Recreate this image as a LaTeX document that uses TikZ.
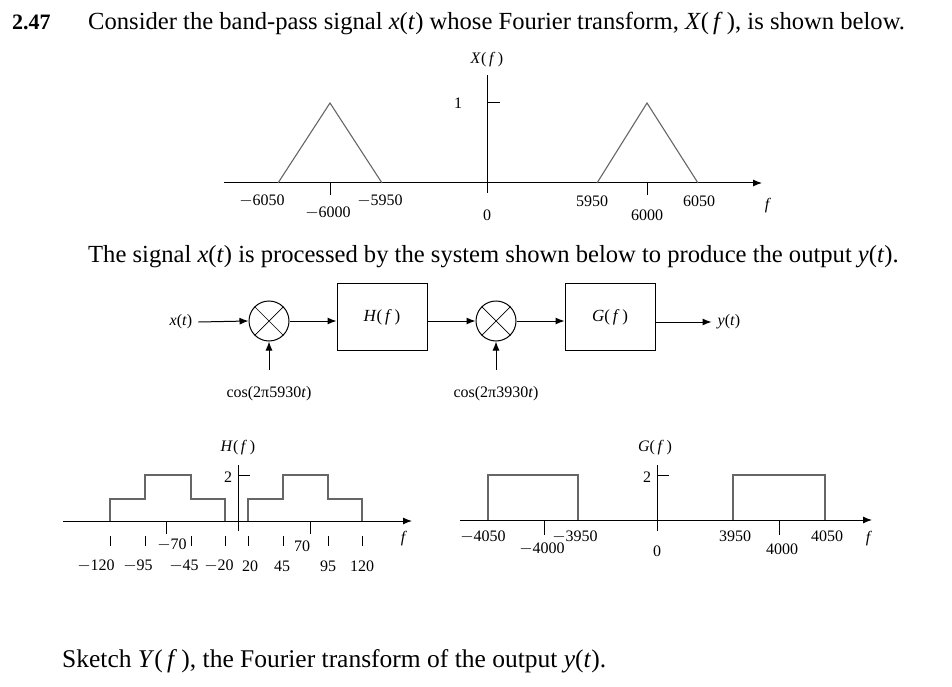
\documentclass[tikz,border=0pt]{standalone}
\usepackage{fontspec}
\setmainfont{Liberation Serif}
\usetikzlibrary{arrows.meta}
\newcommand{\vi}[1]{\textit{#1}}
\begin{document}
\begin{tikzpicture}[x=1pt,y=-1pt,
  ax/.style={line width=1pt,-{Latex[length=9pt,width=7pt]}},
  axn/.style={line width=1pt},
  curve/.style={line width=1.1pt,draw=black!60},
  lbl/.style={font=\fontsize{16}{16}\selectfont,inner sep=0pt},
  body/.style={font=\fontsize{24.6}{26}\selectfont,inner sep=0pt,anchor=base west},
  blk/.style={draw,line width=1pt,minimum width=90pt,minimum height=67pt,font=\fontsize{17}{17}\selectfont},
  mix/.style={draw,circle,line width=1pt,minimum size=40pt,inner sep=0pt},
  sig/.style={line width=1pt,-{Latex[length=9pt,width=7pt]}}]
\useasboundingbox (0,0) rectangle (952,687);
% text
\node[body,font=\fontsize{22}{22}\selectfont\bfseries] (num) at (12,30) {2.47};
\node[body] (t1) at (88,30) {Consider the band-pass signal \vi{x}(\vi{t}) whose Fourier transform, \vi{X}(\,\vi{f}\,), is shown below.};
\node[body] (t2) at (88,262) {The signal \vi{x}(\vi{t}) is processed by the system shown below to produce the output \vi{y}(\vi{t}).};
\node[body,font=\fontsize{25.5}{26}\selectfont] (t3) at (62,667) {Sketch \vi{Y}(\,\vi{f}\,), the Fourier transform of the output \vi{y}(\vi{t}).};
% X(f)
\draw[ax] (224,183) -- (762,183);
\draw[axn] (487,75) -- (487,193);
\draw[axn] (487,103) -- (500,103);
\node[lbl] (one) at (458,103) {1};
\node[lbl] (xl) at (487,60) {\vi{X}(\,\vi{f}\,)};
\draw[curve] (278,183) -- (330,103) -- (382,183);
\draw[curve] (597,183) -- (647,103) -- (698,183);
\draw[axn] (330,183) -- (330,195);
\draw[axn] (647,183) -- (647,195);
\node[lbl] at (262,201) {$-$6050};
\node[lbl] at (328,213) {$-$6000};
\node[lbl] at (380,201) {$-$5950};
\node[lbl] at (487,215) {0};
\node[lbl] at (592,201) {5950};
\node[lbl] at (647,215) {6000};
\node[lbl] at (699,201) {6050};
\node[lbl] at (768,206) {\vi{f}};
% block diagram
\node[lbl] (xin) at (181,322) {\vi{x}(\vi{t})};
\node[mix] (m1) at (269,321) {};
\draw[line width=0.7pt] (m1.north west) -- (m1.south east) (m1.north east) -- (m1.south west);
\node[blk] (H) at (382,317) {\vi{H}(\,\vi{f}\,)};
\node[mix] (m2) at (496,321) {};
\draw[line width=0.7pt] (m2.north west) -- (m2.south east) (m2.north east) -- (m2.south west);
\node[blk] (G) at (610,317) {\vi{G}(\,\vi{f}\,)};
\node[lbl] (yout) at (729,322) {\vi{y}(\vi{t})};
\coordinate (c1) at (269,370);
\coordinate (c2) at (496,370);
\node[lbl] (cos1) at (269,394) {cos(2π5930\vi{t})};
\node[lbl] (cos2) at (496,394) {cos(2π3930\vi{t})};
\draw[sig] (xin.east) ++(6,0) -- (m1.west);
\draw[sig] (m1.east) -- (H.west |- m1.east);
\draw[sig] (H.east |- m2.west) -- (m2.west);
\draw[sig] (m2.east) -- (G.west |- m2.east);
\draw[sig] (G.east |- yout.west) -- ([xshift=-6pt]yout.west);
\draw[sig] (c1) -- (m1.south);
\draw[sig] (c2) -- (m2.south);
% H(f)
\draw[ax] (63,521) -- (412,521);
\draw[axn] (238,465) -- (238,531);
\draw[axn] (238,475) -- (250,475);
\node[lbl] at (228,477) {2};
\node[lbl] at (238,448) {\vi{H}(\,\vi{f}\,)};
\draw[curve] (110,521) |- (145,499) |- (191,475) |- (225,499) -- (225,521);
\draw[curve] (248,521) |- (283,499) |- (328,475) |- (362,499) -- (362,521);
\foreach \x in {110,145,191,225,248,283,328,362} \draw[line width=0.8pt] (\x,536) -- (\x,546);
\draw[axn] (166,521) -- (166,534);
\draw[axn] (310,521) -- (310,534);
\node[lbl] at (172,545) {$-$70};
\node[lbl] at (302,546) {70};
\node[lbl] at (96,566) {$-$120};
\node[lbl] at (138,566) {$-$95};
\node[lbl] at (184,566) {$-$45};
\node[lbl] at (219,566) {$-$20};
\node[lbl] at (250,566) {20};
\node[lbl] at (282,566) {45};
\node[lbl] at (328,566) {95};
\node[lbl] at (362,566) {120};
\node[lbl] at (404,539) {\vi{f}};
% G(f)
\draw[ax] (460,520) -- (872,520);
\draw[axn] (657,465) -- (657,531);
\draw[axn] (657,475) -- (669,475);
\node[lbl] at (647,477) {2};
\node[lbl] at (655,448) {\vi{G}(\,\vi{f}\,)};
\draw[curve] (488,520) |- (578,475) -- (578,520);
\draw[curve] (733,520) |- (825,475) -- (825,520);
\draw[axn] (544,520) -- (544,535);
\draw[axn] (779,520) -- (779,535);
\node[lbl] at (483,537) {$-$4050};
\node[lbl] at (542,549) {$-$4000};
\node[lbl] at (575,537) {$-$3950};
\node[lbl] at (657,551) {0};
\node[lbl] at (735,536) {3950};
\node[lbl] at (782,549) {4000};
\node[lbl] at (827,536) {4050};
\node[lbl] at (869,539) {\vi{f}};
\end{tikzpicture}
\end{document}
